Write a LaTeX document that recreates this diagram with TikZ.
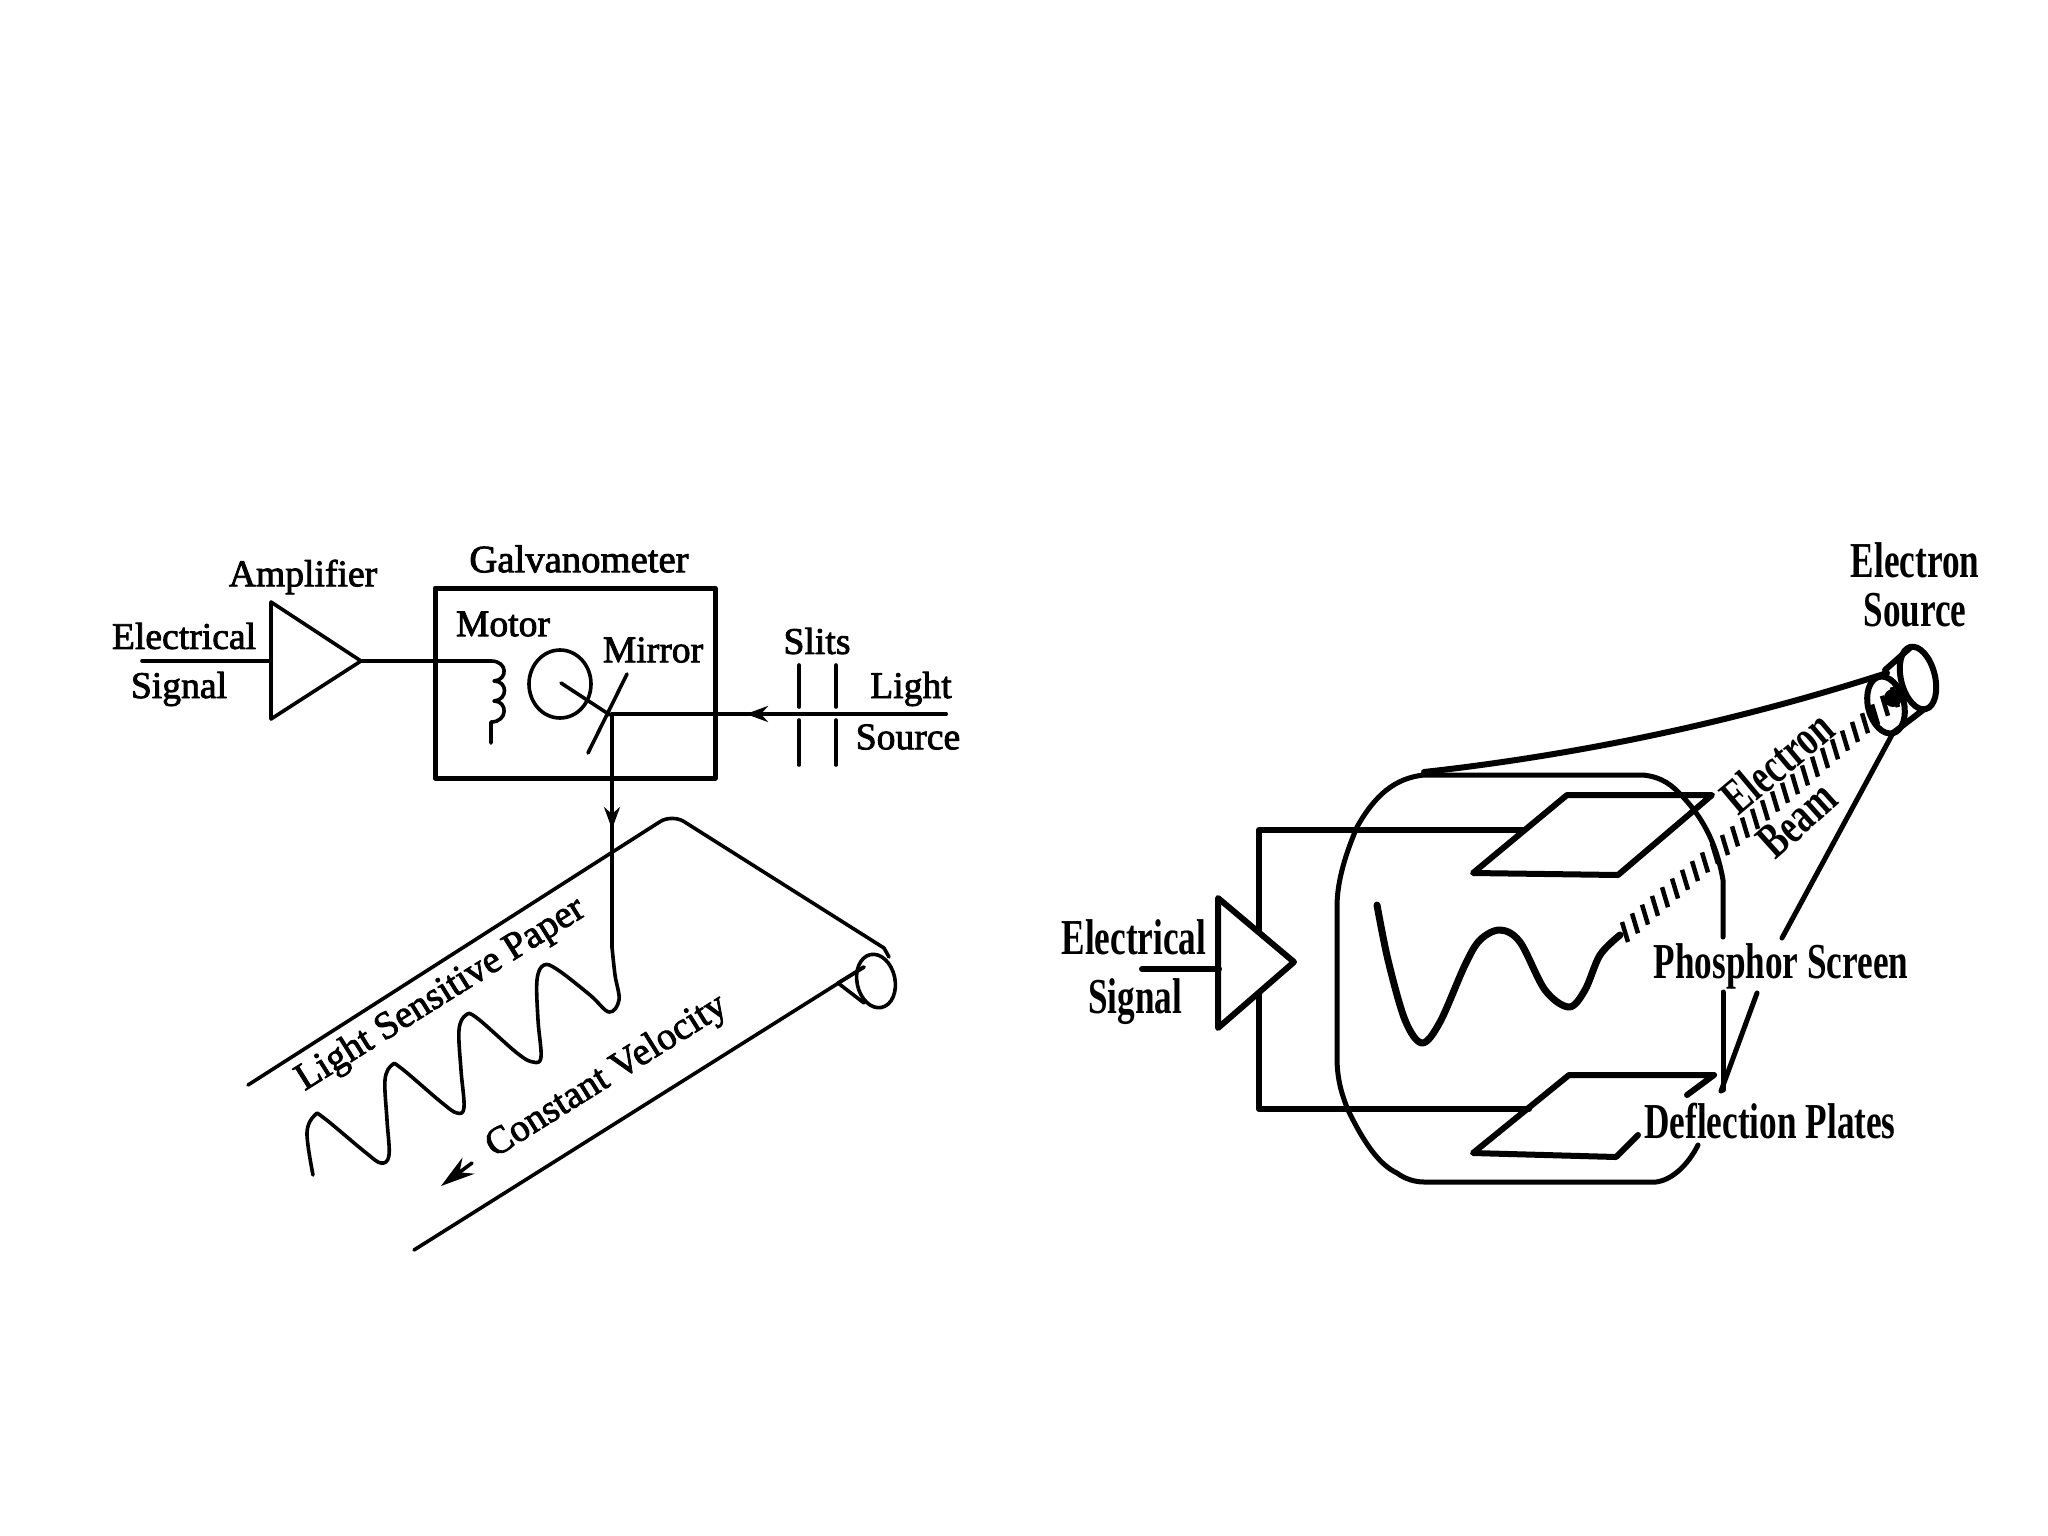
\documentclass[tikz,border=0pt]{standalone}
\usepackage{fontspec}
\usetikzlibrary{arrows.meta}
\newfontfamily\chartfont[FakeBold=2.2]{Liberation Serif}
\newfontfamily\tubefont[FakeStretch=0.7]{Liberation Serif}
\begin{document}
\begin{tikzpicture}[x=0.01cm,y=-0.01cm,line cap=round,line join=round,
  chartlabel/.style={font=\chartfont\fontsize{10.7}{13}\selectfont,inner sep=0pt},
  paperlabel/.style={font=\chartfont\fontsize{11}{14}\selectfont,inner sep=0pt,rotate=32},
  tubelabel/.style={font=\tubefont\bfseries\fontsize{14.3}{16}\selectfont,inner sep=0pt},
  wire/.style={black,line width=0.036cm},
  heavy/.style={black,line width=0.05cm},
  tubewire/.style={black,line width=0.06cm},
  tip/.style={-{Stealth[length=0.22cm,width=0.16cm]}},
  beamtick/.style={black,line width=0.045cm,line cap=butt}]
\useasboundingbox (0,0) rectangle (2048,1536);
\begin{scope}
\coordinate (inL) at (142,661);
\coordinate (ampInL) at (271,661);
\coordinate (ampOutL) at (361,661);
\coordinate (coilIn) at (491,661);
\coordinate (lightEnd) at (946,714);
\coordinate (lightTip) at (746,714);
\coordinate (mirrorHit) at (612,714);
\coordinate (beamTip) at (612,829);
\coordinate (waveStart) at (612,947);
\draw[wire] (inL) -- (ampInL);
\draw[wire] (271,602) -- (361,661) -- (271,719) -- cycle;
\draw[wire] (ampOutL) -- (coilIn);
\draw[heavy] (435,588) rectangle (715,778);
\draw[wire] (coilIn) .. controls (508,661) and (508,680) .. (494,681)
  .. controls (508,681) and (508,700) .. (494,701)
  .. controls (508,701) and (508,722) .. (491,722) -- (491,743);
\draw[wire] (560,684) ellipse (31 and 34);
\draw[wire] (561,683) -- (610,715);
\draw[wire] (627,674) -- (588,753);
\draw[wire] (799,665) -- (799,707);
\draw[wire] (836,665) -- (836,707);
\draw[wire] (799,720) -- (799,765);
\draw[wire] (836,720) -- (836,765);
\draw[wire] (lightEnd) -- (mirrorHit);
\draw[wire,tip] (lightEnd) -- (lightTip);
\draw[wire] (mirrorHit) -- (waveStart);
\draw[wire,tip] (mirrorHit) -- (beamTip);
\draw[wire,rounded corners=0.14cm] (248,1085) -- (672,814) -- (884,948);
\draw[wire] (414,1250) -- (864,967);
\draw[wire,rotate around={12:(876,981)}] (876,981) ellipse (19 and 27);
\draw[wire] (884,948) -- (889,957);
\draw[wire] (864,967) -- (838,983) -- (864,1003);
\draw[wire] plot[smooth,tension=0.6] coordinates {(waveStart) (615,975) (619,1000) (609,1012) (590,995) (558,970) (544,965) (537,980) (538,1020) (541,1057) (533,1062) (517,1053) (477,1018) (466,1015) (459,1030) (461,1070) (464,1107) (457,1113) (441,1102) (401,1068) (392,1065) (385,1080) (387,1120) (389,1155) (381,1163) (365,1152) (324,1118) (315,1115) (307,1133) (313,1175)};
\draw[wire,-{Stealth[length=0.34cm,width=0.2cm]}] (472,1163) -- (441,1186);
\node[chartlabel] (amplifierLabel) at (303,577) {Amplifier};
\node[chartlabel,font=\chartfont\fontsize{11}{13}\selectfont] (galvoLabel) at (579,559) {Galvanometer};
\node[chartlabel] (electricalL) at (184,636) {Electrical};
\node[chartlabel] (signalL) at (179,689) {Signal};
\node[chartlabel] (motorLabel) at (503,624) {Motor};
\node[chartlabel] (mirrorLabel) at (653,650) {Mirror};
\node[chartlabel] (slitsLabel) at (817,641) {Slits};
\node[chartlabel] (lightLabel) at (911,689) {Light};
\node[chartlabel] (sourceLabel) at (908,737) {Source};
\node[paperlabel] (paperLabel) at (441,995) {Light Sensitive Paper};
\node[paperlabel] (velocityLabel) at (607,1077) {Constant Velocity};
\end{scope}
\begin{scope}
\coordinate (inR) at (1142,969);
\coordinate (ampInR) at (1219,969);
\draw[tubewire] (inR) -- (ampInR);
\draw[tubewire] (1218,898) -- (1294,962) -- (1218,1028) -- cycle;
\draw[tubewire] (1259,930) -- (1259,830) -- (1524,830);
\draw[tubewire] (1259,993) -- (1259,1109) -- (1529,1109);
\draw[tubewire] (1567,795) -- (1712,795) -- (1618,875) -- (1473,873) -- cycle;
\draw[tubewire] (1687,1095) -- (1714,1075) -- (1569,1075) -- (1473,1153) -- (1616,1157) -- (1638,1135);
\draw[heavy] (1723,937) -- (1723,880) .. controls (1716,840) and (1700,815) .. (1683,797) .. controls (1672,785) and (1662,777) .. (1643,775) -- (1424,775) .. controls (1395,778) and (1375,795) .. (1357,827) .. controls (1343,860) and (1337,885) .. (1337,907) -- (1337,1057) .. controls (1337,1080) and (1342,1095) .. (1348,1110) .. controls (1365,1145) and (1380,1165) .. (1397,1173) .. controls (1405,1179) and (1415,1182) .. (1424,1182) -- (1656,1182) .. controls (1672,1180) and (1688,1165) .. (1698,1145);
\draw[heavy] (1723,992) -- (1723,1090);
\draw[tubewire] (1424,772) .. controls (1560,757) and (1720,727) .. (1887,673);
\draw[heavy] (1782,938) -- (1893,733);
\draw[heavy] (1757,993) -- (1721,1091);
\draw[tubewire,rotate around={14:(1918,678)}] (1918,678) ellipse (17 and 32);
\draw[tubewire,rotate around={14:(1886,705)}] (1886,705) ellipse (18 and 29);
\draw[tubewire] (1885,670) -- (1911,647);
\draw[tubewire] (1893,733) -- (1923,710);
\fill[black] (1893,698) circle (9);
\draw[line width=0.07cm] plot[smooth,tension=0.55] coordinates {(1377,905) (1388,960) (1405,1020) (1422,1043) (1440,1022) (1465,965) (1480,940) (1500,930) (1520,942) (1545,990) (1569,1007) (1585,990) (1600,955) (1620,935)};
\foreach \i in {0,...,27}
  \draw[beamtick] (1625+\i*10,932-\i*8.7) ++(-3,-10) -- ++(6,20);
\node[tubelabel] (electronLabel) at (1915,560) {Electron};
\node[tubelabel] (sourceLabelR) at (1915,610) {Source};
\node[tubelabel] (electricalR) at (1134,937) {Electrical};
\node[tubelabel] (signalR) at (1135,1002) {Signal};
\node[tubelabel] (phosphorLabel) at (1781,966) {Phosphor Screen};
\node[tubelabel] (deflectionLabel) at (1770,1121) {Deflection Plates};
\node[tubelabel,rotate=40] (beamElectron) at (1777,762) {Electron};
\node[tubelabel,rotate=42] (beamBeam) at (1797,820) {Beam};
\end{scope}
\end{tikzpicture}
\end{document}
